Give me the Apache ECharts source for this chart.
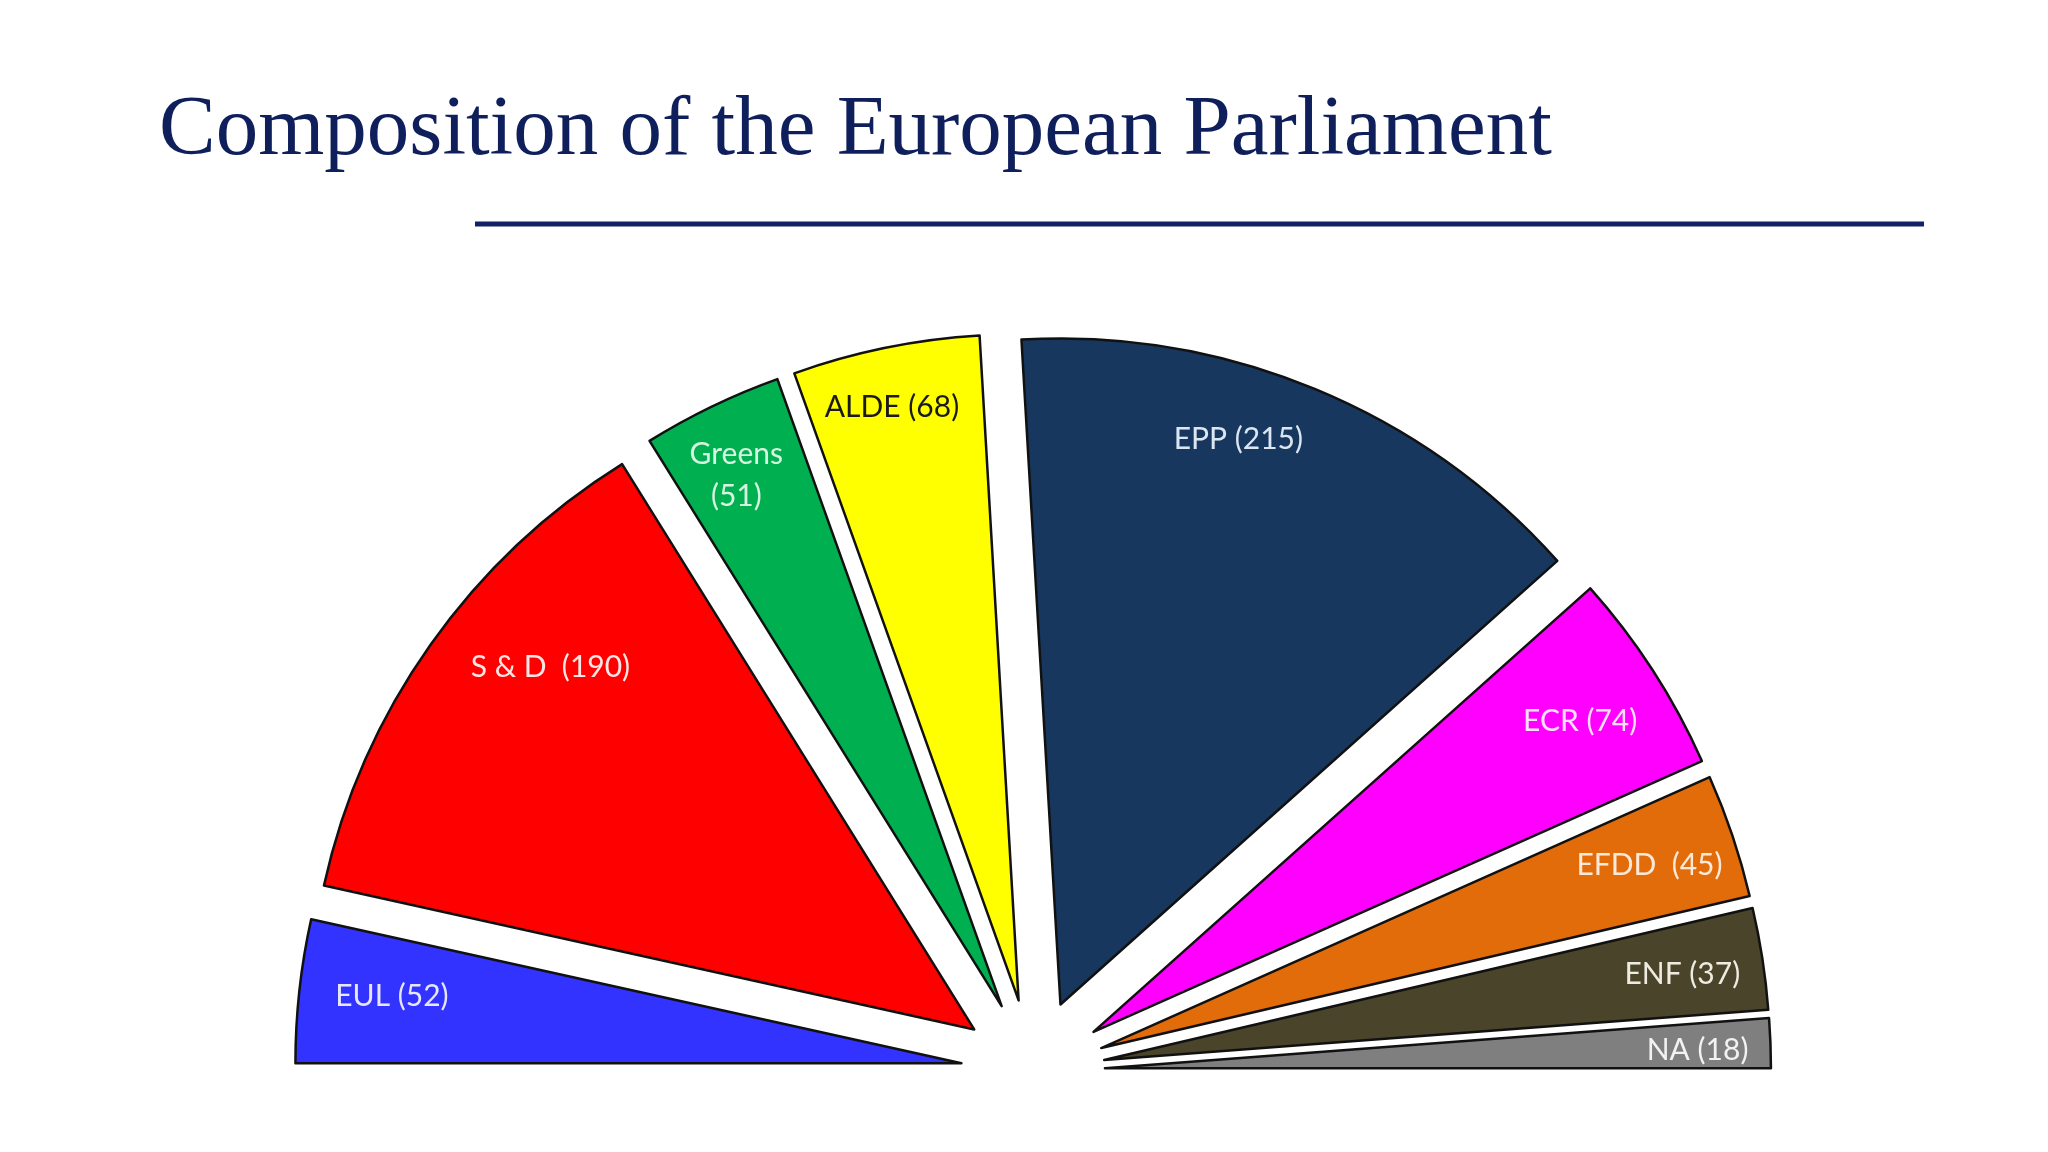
<!DOCTYPE html>
<html>
<head>
<meta charset="utf-8">
<title>Composition of the European Parliament</title>
<script src="https://cdn.jsdelivr.net/npm/echarts@6/dist/echarts.min.js"></script>
<style>
    html, body { margin: 0; padding: 0; background: #fff; }
    #chart { width: 2048px; height: 1152px; }
</style>
</head>
<body>
<div id="chart"></div>
<script>
// groups, left to right round the half circle
var parties = ['EUL', 'S & D', 'Greens', 'ALDE', 'EPP', 'ECR', 'EFDD', 'ENF', 'NA'];
var seats = [52, 190, 51, 68, 215, 74, 45, 37, 18];
var colors = ['#3333ff', '#ff0000', '#00b050', '#ffff00', '#17375e', '#ff00ff', '#e36c0a', '#4a452a', '#7f7f7f'];
var labelColors = ['#e6e6ff', '#ffe6e6', '#d6f5e0', '#1a1a1a', '#dce6f2', '#fde0fd', '#fde9d9', '#eeece1', '#f2f2f2'];
// the labels in the original were placed by hand, nudge them a bit
var labelNudge = [[16, -3], [57, -22], [-9, -1], [-9, -16], [-47, -21], [-8, 9], [-10, 5], [-4, 4], [4, 4]];

var cx = 1033, cy = 1071, r = 666;

function slices(hidden) {
    var list = [];
    for (var i = 0; i < parties.length; i++) {
        list.push({
            name: parties[i],
            value: seats[i],
            selected: true,
            itemStyle: hidden ? { color: 'transparent', borderWidth: 0 } : { color: colors[i] },
            label: { color: labelColors[i] }
        });
    }
    return list;
}

var chart = echarts.init(document.getElementById('chart'));
chart.setOption({
    animation: false,
    backgroundColor: '#ffffff',
    title: {
        text: 'Composition of the European Parliament',
        left: 154,
        top: 84,
        textStyle: {
            fontFamily: 'Liberation Serif',
            fontWeight: 'normal',
            fontSize: 85,
            color: '#0f1f5c'
        }
    },
    graphic: [{
        type: 'line',
        shape: { x1: 475, y1: 224, x2: 1924, y2: 224 },
        style: { stroke: '#0f2366', lineWidth: 5 }
    }],
    series: [
        {
            // the slices
            type: 'pie',
            center: [cx, cy],
            radius: [0, r],
            startAngle: 180,
            endAngle: 0,
            selectedMode: 'multiple',
            selectedOffset: 72,
            avoidLabelOverlap: false,
            emphasis: { disabled: true },
            itemStyle: { borderColor: '#111111', borderWidth: 2.5 },
            label: { show: false },
            labelLine: { show: false },
            data: slices(false)
        },
        {
            // labels only, placed near the rim
            type: 'pie',
            silent: true,
            center: [cx, cy],
            radius: [506, r],
            startAngle: 180,
            endAngle: 0,
            selectedMode: 'multiple',
            selectedOffset: 72,
            avoidLabelOverlap: false,
            emphasis: { disabled: true },
            label: {
                show: true,
                position: 'inside',
                rotate: 0,
                fontFamily: 'Lato',
                fontSize: 30,
                lineHeight: 42,
                formatter: function (p) {
                    if (p.name == 'Greens') {
                        return p.name + '\n(' + p.value + ')';
                    }
                    var gap = (p.name == 'S & D' || p.name == 'EFDD') ? '  ' : ' ';
                    return p.name + gap + '(' + p.value + ')';
                }
            },
            labelLayout: function (params) {
                var n = labelNudge[params.dataIndex];
                return { dx: n[0], dy: n[1] };
            },
            labelLine: { show: false },
            data: slices(true)
        }
    ]
});
</script>
</body>
</html>
